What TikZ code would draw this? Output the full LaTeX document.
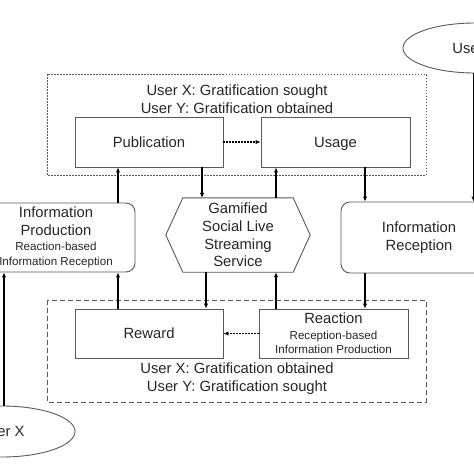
\documentclass[tikz,border=0pt]{standalone}
\usepackage{fontspec}
\setmainfont{Liberation Sans}
\usetikzlibrary{arrows.meta,shapes.geometric,calc}
\begin{document}
\begin{tikzpicture}[x=1pt,y=-1pt,
  boxline/.style={draw=black!65, line width=0.9pt},
  rbox/.style={boxline, rectangle, inner sep=0pt, align=center, text=black!85, font=\fontsize{14.8}{17.5}\selectfont},
  onebox/.style={rbox, text height=10.6pt, text depth=0pt},
  roundbox/.style={rbox, rounded corners=9pt},
  uell/.style={boxline, ellipse, inner sep=0pt, text=black!85, font=\fontsize{14.8}{17.5}\selectfont},
  lbl/.style={align=center, inner sep=0pt, text=black!85, font=\fontsize{14.8}{18}\selectfont},
  arr/.style={line width=1.6pt, -{Latex[length=5pt,width=4.5pt]}},
  darr/.style={line width=1.5pt, dash pattern=on 1.5pt off 1.5pt, -{Latex[length=5pt,width=4.5pt]}},
  topframe/.style={draw=black!65, line width=0.9pt, dash pattern=on 1.5pt off 1.5pt},
  botframe/.style={draw=black!65, line width=0.9pt, dash pattern=on 5pt off 3pt}]
\useasboundingbox (0,0) rectangle (474,474);
\clip (0,0) rectangle (474,474);
% frames
\draw[topframe] (47,74) rectangle (426,175);
\draw[botframe] (47,300) rectangle (426,402);
\node[lbl] (toplbl) at (237,99) {User X: Gratification sought\\User Y: Gratification obtained};
\node[lbl] (botlbl) at (237,379) {User X: Gratification obtained\\User Y: Gratification sought};
% boxes
\node[onebox, minimum width=148pt, minimum height=50pt] (pub) at (149,142) {Publication};
\node[onebox, minimum width=149pt, minimum height=50pt] (usage) at (335.5,142) {Usage};
\node[onebox, minimum width=148pt, minimum height=49pt] (reward) at (149,333.5) {Reward};
\node[rbox, minimum width=149pt, minimum height=49pt] (reaction) at (333.5,333.5) {Reaction\\[-2pt]{\fontsize{11.6}{13.5}\selectfont Reception-based}\\[-3pt]{\fontsize{11.6}{13.5}\selectfont Information Production}};
\node[roundbox, minimum width=158pt, minimum height=69pt] (infoprod) at (56,237.5) {Information\\Production\\[-2pt]{\fontsize{11.6}{13.5}\selectfont Reaction-based}\\[-3pt]{\fontsize{11.6}{13.5}\selectfont Information Reception}};
\node[roundbox, minimum width=156pt, minimum height=71pt] (inforec) at (419,237.5) {Information\\Reception};
% hexagon
\node[align=center, inner sep=0pt, minimum width=144pt, minimum height=74pt, text=black!85, font=\fontsize{14.8}{17.8}\selectfont] (hex) at (238,235) {Gamified\\Social Live\\Streaming\\Service};
\draw[boxline] (hex.west) -- ($(hex.north west)+(17,0)$) -- ($(hex.north east)+(-17,0)$) -- (hex.east) -- ($(hex.south east)+(-17,0)$) -- ($(hex.south west)+(17,0)$) -- cycle;
% users
\node[uell, minimum width=144pt, minimum height=50pt] (userY) at (475,48) {User Y};
\node[uell, minimum width=146pt, minimum height=51pt] (userX) at (2,431.5) {User X};
% x positions
\coordinate (cA) at (118,0);
\coordinate (cB) at (202,0);
\coordinate (cB2) at (206,0);
\coordinate (cC) at (276,0);
\coordinate (cD) at (365,0);
\coordinate (cL) at (4,0);
\coordinate (cR) at (473.5,0);
% arrows
\draw[arr] (infoprod.north -| cA) -- (pub.south -| cA);
\draw[arr] (pub.south -| cB) -- (hex.north -| cB);
\draw[arr] (hex.north -| cC) -- (usage.south -| cC);
\draw[arr] (usage.south -| cD) -- (inforec.north -| cD);
\draw[arr] (reward.north -| cA) -- (infoprod.south -| cA);
\draw[arr] (hex.south -| cB2) -- (reward.north -| cB2);
\draw[arr] (reaction.north -| cC) -- (hex.south -| cC);
\draw[arr] (inforec.south -| cD) -- (reaction.north -| cD);
\draw[arr] (userX.north -| cL) -- (infoprod.south -| cL);
\draw[arr] (userY.south -| cR) -- (inforec.north -| cR);
\draw[darr] (pub.east) -- (usage.west);
\draw[darr] (reaction.west) -- (reward.east);
\end{tikzpicture}
\end{document}
